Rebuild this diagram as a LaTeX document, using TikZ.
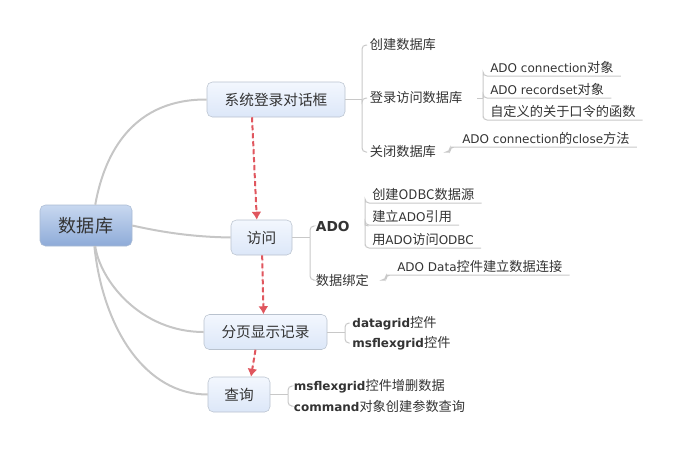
\documentclass[tikz,border=0pt]{standalone}
\usepackage{fontspec}
\setmainfont{DejaVu Sans}
\newfontfamily\zh[Scale=1.1]{Noto Sans CJK SC}
\usetikzlibrary{arrows.meta}
\definecolor{txt}{HTML}{333333}
\definecolor{wire}{HTML}{C6C6C6}
\definecolor{twig}{HTML}{C8C8C8}
\definecolor{flow}{HTML}{E0565E}
\definecolor{rootTop}{HTML}{C8D8F0}
\definecolor{rootBot}{HTML}{8EABD8}
\definecolor{rootLine}{HTML}{A9BAD3}
\definecolor{boxTop}{HTML}{F3F7FE}
\definecolor{boxBot}{HTML}{DCE7F8}
\definecolor{boxLine}{HTML}{B9C2CE}

\begin{document}
\begin{tikzpicture}[x=0.75pt,y=-0.75pt]
\tikzset{root/.style = {rounded corners=4pt,draw=rootLine,top color=rootTop,bottom color=rootBot,minimum width=69pt,minimum height=30.75pt,font=\fontsize{12.3}{14}\selectfont\zh,text=txt}}
\tikzset{topic/.style = {rounded corners=4pt,draw=boxLine,top color=boxTop,bottom color=boxBot,minimum height=26.25pt,font=\fontsize{10}{12}\selectfont\zh,text=txt}}
\tikzset{leaf/.style = {anchor=west,inner xsep=2pt,font=\fontsize{9}{11}\selectfont,text=txt}}
\tikzset{uleaf/.style = {anchor=south west,inner xsep=5.25pt,inner ysep=1.5pt,font=\fontsize{9}{11}\selectfont,text=txt}}
\tikzset{wire/.style = {draw=wire,line width=1.5pt}}
\tikzset{twig/.style = {draw=twig,line width=0.75pt,rounded corners=3pt}}
\tikzset{flow/.style = {->,> = {Latex[length=6pt,width=7.5pt]},draw=flow,fill=flow,line width=1.5pt,dash pattern=on 3.75pt off 2.25pt}}
\useasboundingbox (0,0) rectangle (681,451);

% main topics
\node[root] (db) at (86,225.5) {数据库};
\node[topic,minimum width=103.5pt] (sys) at (276,99.5) {系统登录对话框};
\node[topic,minimum width=45.75pt] (fw) at (261.5,237.5) {访问};
\node[topic,minimum width=92.25pt] (fy) at (265.5,332) {分页显示记录};
\node[topic,minimum width=46.5pt] (cx) at (239,394.5) {查询};

% wires from the root
\draw[wire] (db.66) .. controls (105,150) and (135,99) .. (sys.west);
\draw[wire] (db.east) .. controls (170,234) and (200,237) .. (fw.west);
\draw[wire] (db.-66) .. controls (100,280) and (140,332) .. (fy.west);
\draw[wire] (db.-68) .. controls (103,328) and (145,394.5) .. (cx.west);

% order of the steps
\draw[flow] ([xshift=-18]sys.south) -- ([xshift=-3.5]fw.north);
\draw[flow] ([xshift=0.5]fw.south) -- ([xshift=-1.5]fy.north);
\draw[flow] ([xshift=-7.5]fy.south) -- ([xshift=9]cx.north);

% 系统登录对话框
\coordinate (j1) at (362,99.5);
\node[leaf] (cj) at (367,45) {\zh 创建数据库};
\node[leaf] (dl) at (367,98) {\zh 登录访问数据库};
\node[leaf] (gb) at (367,152) {\zh 关闭数据库};
\draw[twig] (sys.east) -- (j1);
\draw[twig] (j1) |- (cj.west);
\draw[twig] (j1) |- (dl.west);
\draw[twig] (j1) |- (gb.west);

\coordinate (j2) at (483,98);
\node[uleaf] (ac) at (483,76) {ADO connection\zh 对象};
\node[uleaf] (ar) at (483,98) {ADO recordset\zh 对象};
\node[uleaf] (zd) at (483,120) {\zh 自定义的关于口令的函数};
\draw[twig] ([xshift=9]dl.east) -- (j2);
\foreach \n in {ac,ar,zd}
  \draw[twig] (j2) |- (\n.south west) -- (\n.south east);

\coordinate (j3) at (450,152);
\node[uleaf] (cm) at (455,147) {ADO connection{\zh 的}close{\zh 方法}};
\draw[twig] ([xshift=8]gb.east) -- (j3) |- (cm.south west) -- (cm.south east);

% 访问
\coordinate (j4) at (310,237.5);
\node[leaf,font=\fontsize{10.3}{12}\bfseries] (ado) at (313,226) {ADO};
\node[leaf] (bd) at (313,280) {\zh 数据绑定};
\draw[twig] (fw.east) -- (j4);
\draw[twig] (j4) |- (ado.west);
\draw[twig] (j4) |- (bd.west);

\coordinate (j5) at (365,225);
\node[uleaf] (od) at (365,203) {\zh 创建ODBC数据源};
\node[uleaf] (jl) at (365,225) {{\zh 建立}ADO{\zh 引用}};
\node[uleaf] (yo) at (365,248) {{\zh 用}ADO{\zh 访问}ODBC};
\draw[twig] ([xshift=12]ado.east) -- (j5);
\foreach \n in {od,jl,yo}
  \draw[twig] (j5) |- (\n.south west) -- (\n.south east);

\coordinate (j6) at (386,280);
\node[uleaf] (dc) at (390,275) {ADO Data{\zh 控件建立数据连接}};
\draw[twig] ([xshift=10]bd.east) -- (j6) |- (dc.south west) -- (dc.south east);

% 分页显示记录
\coordinate (j7) at (345,332);
\node[leaf] (dg) at (349.5,323) {{\bfseries datagrid}\zh 控件};
\node[leaf] (ms) at (349.5,343) {{\bfseries msflexgrid}\zh 控件};
\draw[twig] (fy.east) -- (j7);
\draw[twig] (j7) |- (dg.west);
\draw[twig] (j7) |- (ms.west);

% 查询
\coordinate (j8) at (288,394.5);
\node[leaf] (zs) at (291,386) {{\bfseries msflexgrid}\zh 控件增删数据};
\node[leaf] (cs) at (291,406) {{\bfseries command}\zh 对象创建参数查询};
\draw[twig] (cx.east) -- (j8);
\draw[twig] (j8) |- (zs.west);
\draw[twig] (j8) |- (cs.west);

\end{tikzpicture}
\end{document}
